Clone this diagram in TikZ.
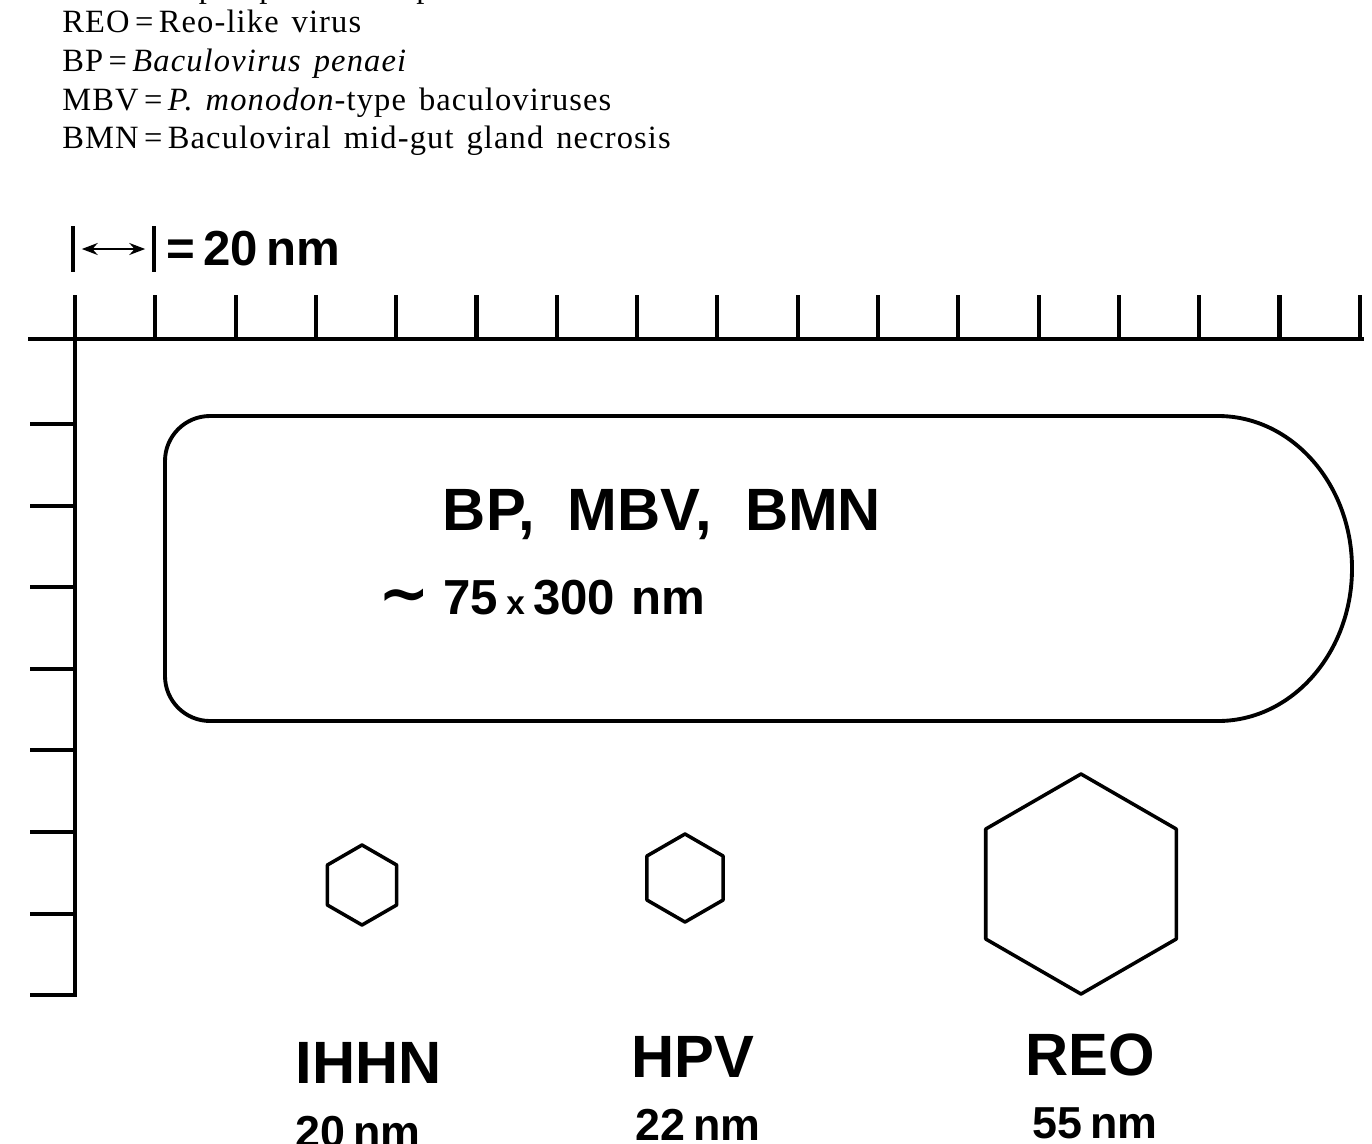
\documentclass[tikz,border=0pt]{standalone}
\usepackage{fontspec}
\setmainfont{Liberation Serif}
\setsansfont{Liberation Sans}
\newfontfamily\legendfont[LetterSpace=3.5,WordSpace=1.4]{Liberation Serif}
\newfontfamily\symbolfont{DejaVu Sans}
\usetikzlibrary{shapes.geometric,arrows.meta}

\newcommand{\approxsym}{{\symbolfont\bfseries\fontsize{35}{35}\selectfont ∼}}
\newcommand{\smallx}{{\fontsize{19}{19}\selectfont x}}

\begin{document}
\begin{tikzpicture}[x=0.02cm, y=-0.02cm, line join=bevel]
    \pgfmathsetmacro{\tk}{80.3}  % 20 nm on the top ruler
    \pgfmathsetmacro{\tl}{81.6}  % 20 nm on the left ruler

    \tikzset{%
      ruler/.style      = {line width=2.3pt, line cap=rect},
      capsule/.style    = {line width=2.2pt},
      virion/.style     = {draw, line width=2pt, regular polygon, regular polygon sides=6,
                           shape border rotate=30, inner sep=0pt},
      legendline/.style = {anchor=base west, inner sep=0pt,
                           font=\legendfont\fontsize{18.5}{20}\selectfont},
      bigname/.style    = {anchor=base, inner sep=0pt,
                           font=\sffamily\bfseries\fontsize{34}{34}\selectfont},
      sizename/.style   = {anchor=base, inner sep=0pt,
                           font=\sffamily\bfseries\fontsize{25.5}{26}\selectfont},
      sizetext/.style   = {anchor=base west, inner sep=0pt,
                           font=\sffamily\bfseries\fontsize{28}{28}\selectfont}
    }

    \useasboundingbox (0,0) rectangle (1372,1143);

    % key to the abbreviations
    \foreach \y/\txt/\nm in {%
      -3/{HPV\,=\,Hepatopancreatic parvo-like virus}/hpvkey,
      32/{REO\,=\,Reo-like virus}/reokey,
      71/{BP\,=\,\textit{Baculovirus penaei}}/bpkey,
      110/{MBV\,=\,\textit{P.\ monodon}-type baculoviruses}/mbvkey,
      148/{BMN\,=\,Baculoviral mid-gut gland necrosis}/bmnkey%
    }{
      \node[legendline] (\nm) at (62,\y) {\txt};
    }

    % scale bar
    \coordinate (barL) at (73,249);
    \coordinate (barR) at (154,249);
    \draw[ruler] (73,228) -- (73,270);
    \draw[ruler] (154,228) -- (154,270);
    \draw[line width=1.6pt, {Stealth[length=9pt]}-{Stealth[length=9pt]},
          shorten <=5pt, shorten >=5pt] (barL) -- (barR);
    \node[sizetext] (barlabel) at (166,265) {=\,20\,nm};

    % rulers
    \draw[ruler] (30,339) -- (1362,339);
    \foreach \i in {0,...,16}
      \draw[ruler] (75+\i*\tk,339) -- ++(0,-42);
    \draw[ruler] (75,339) -- (75,995);
    \foreach \j in {0,...,7}
      \draw[ruler] (75,424+\j*\tl) -- ++(-43,0);

    % rod shaped baculovirus
    \draw[capsule, rounded corners=0.9cm]
      (1218,416) -- (165,416) -- (165,721) -- (1218,721);
    \draw[capsule]
      (1218,721) arc[start angle=90, end angle=-90, x radius=134, y radius=152.5];
    \node[bigname] (bacnames) at (662,530) {BP,\ \ MBV,\ \ BMN};
    \node[sizetext] (bacsize) at (378,614) {\approxsym\ 75\,\smallx\,300\,\,nm};

    % icosahedral viruses, 4 px per nm
    \foreach \nm/\lbl/\d/\cx/\cy/\lx/\ly/\sx/\sy in {%
      ihhn/IHHN/20/362/885/369/1083/358/1147,
      hpv/HPV/22/685/878/693/1077/698/1140,
      reo/REO/55/1081/884/1090/1075/1095/1138%
    }{
      \node[virion, minimum size=\d*4*0.02cm] (\nm) at (\cx,\cy) {};
      \node[bigname] (\nm name) at (\lx,\ly) {\lbl};
      \node[sizename] (\nm size) at (\sx,\sy) {\d\,nm};
    }
\end{tikzpicture}
\end{document}
